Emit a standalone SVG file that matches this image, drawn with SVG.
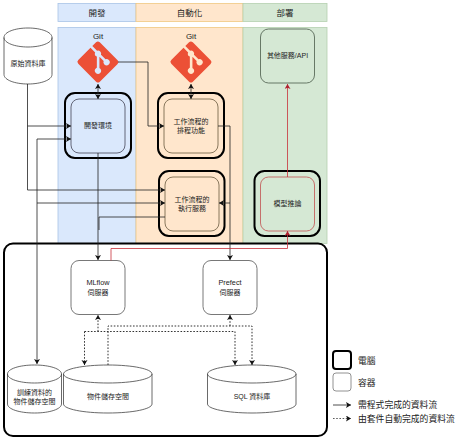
<svg xmlns="http://www.w3.org/2000/svg" width="474" height="440" viewBox="0 0 474 440">
<style>
text{font-family:"Liberation Sans","Noto Sans CJK TC",sans-serif;font-size:7px;fill:#222;text-anchor:middle}
.h{font-size:8.5px}
.g{font-size:8px}
.m{font-size:7.300px}
.k{font-size:8.800px;text-anchor:start}
.pc{stroke:#000;stroke-width:2;fill:none}
.ct{stroke:#555;stroke-width:.8;fill:none}
.cy{stroke:#444;stroke-width:.8;fill:#fff}
.l{stroke:#222;stroke-width:.8;fill:none}
.d{stroke:#333;stroke-width:1;stroke-dasharray:1.6 1.6;fill:none}
.r{stroke:#c8303a;stroke-width:.8;fill:none}
.a{marker-end:url(#ah)}
.s{marker-start:url(#ahs)}
.ra{marker-end:url(#rh)}
</style>
<defs>
<marker id="ah" markerUnits="userSpaceOnUse" markerWidth="8" markerHeight="8" refX="5" refY="3" orient="auto"><path d="M0 0L5 3L0 6L1.2 3Z" fill="#111"/></marker>
<marker id="ahs" markerUnits="userSpaceOnUse" markerWidth="8" markerHeight="8" refX="5" refY="3" orient="auto-start-reverse"><path d="M0 0L5 3L0 6L1.2 3Z" fill="#111"/></marker>
<marker id="rh" markerUnits="userSpaceOnUse" markerWidth="8" markerHeight="8" refX="5" refY="3" orient="auto"><path d="M0 0L5 3L0 6L1.2 3Z" fill="#b02030"/></marker>
<path id="git" transform="scale(.445)" fill="#ec5036" d="M90.156 41.965 50.036 1.848a5.918 5.918 0 0 0-8.372 0l-8.328 8.332 10.566 10.566a7.03 7.03 0 0 1 7.23 1.684 7.034 7.034 0 0 1 1.669 7.277l10.187 10.184a7.028 7.028 0 0 1 7.278 1.672 7.04 7.04 0 0 1 0 9.957 7.05 7.05 0 0 1-9.965 0 7.044 7.044 0 0 1-1.528-7.66l-9.5-9.497V59.36a7.04 7.04 0 0 1 1.86 11.29 7.04 7.04 0 0 1-9.957 0 7.04 7.04 0 0 1 0-9.958 7.06 7.06 0 0 1 2.304-1.539V33.926a7.049 7.049 0 0 1-3.82-9.234L29.242 14.272 1.73 41.777a5.925 5.925 0 0 0 0 8.371L41.852 90.27a5.925 5.925 0 0 0 8.37 0l39.934-39.934a5.925 5.925 0 0 0 0-8.371"/>
</defs>
<g id="lanes">
<rect x="58" y="3.500" width="78" height="18" fill="#dae8fc" stroke="#a9c4e6" stroke-width=".8"/>
<rect x="136" y="3.500" width="107" height="18" fill="#ffe6cc" stroke="#f0c880" stroke-width=".8"/>
<rect x="243" y="3.500" width="84" height="18" fill="#d5e8d4" stroke="#b5d0b0" stroke-width=".8"/>
<rect x="58" y="27.500" width="78" height="216" fill="#dae8fc" stroke="#a9c4e6" stroke-width=".8"/>
<rect x="136" y="27.500" width="107" height="216" fill="#ffe6cc" stroke="#f0c880" stroke-width=".8"/>
<rect x="243" y="27.500" width="84" height="216" fill="#d5e8d4" stroke="#b5d0b0" stroke-width=".8"/>
<text class="h" x="97" y="15.500">開發</text>
<text class="h" x="189.500" y="15.500">自動化</text>
<text class="h" x="285" y="15.500">部署</text>
</g>
<g id="computer"><rect x="4" y="243.500" width="323" height="192.500" rx="9" stroke="#000" stroke-width="2" fill="#fff"/></g>
<g id="raw-db"><path class="cy" d="M4 37.500C4 32 15 28 28 28S52 32 52 37.500V74.500C52 80 41 84 28 84S4 80 4 74.500Z"/><path class="cy" style="fill:none" d="M4 37.500C4 43 15 47 28 47S52 43 52 37.500"/><text x="28" y="66">原始資料庫</text></g>
<g id="git-dev"><text class="g" x="98" y="39">Git</text><use href="#git" transform="translate(77.500 41.500)"/></g>
<g id="git-auto"><text class="g" x="191" y="39">Git</text><use href="#git" transform="translate(170.500 41.500)"/></g>
<g id="dev-env"><rect x="65" y="93" width="66" height="65" rx="10" class="pc"/><rect x="71" y="99" width="54" height="54" rx="8" class="ct" style="stroke:#445"/><text x="98" y="128">開發環境</text></g>
<g id="scheduler"><rect x="158" y="93" width="66" height="65" rx="10" class="pc"/><rect x="164" y="99" width="54" height="54" rx="8" class="ct" style="stroke:#6a5a40"/><text x="191" y="124">工作流程的</text><text x="191" y="133">排程功能</text></g>
<g id="executor"><rect x="159" y="171" width="65.500" height="65" rx="10" class="pc"/><rect x="165" y="177" width="54" height="54" rx="8" class="ct" style="stroke:#6a5a40"/><text x="192" y="202">工作流程的</text><text x="192" y="210.500">執行服務</text></g>
<g id="other-api"><rect x="260.500" y="29" width="54" height="54" rx="8" class="ct" style="stroke:#4a5a4a"/><text x="287.500" y="58">其他服務/API</text></g>
<g id="inference"><rect x="254.500" y="171" width="65.500" height="65" rx="10" class="pc"/><rect x="260.500" y="177" width="54" height="54" rx="8" class="ct" style="stroke:#c05050"/><text x="287.500" y="206">模型推論</text></g>
<g id="mlflow"><rect x="71" y="260.500" width="54" height="54" rx="8" class="ct"/><text class="m" x="98" y="285">MLflow</text><text x="98" y="295">伺服器</text></g>
<g id="prefect"><rect x="203" y="260.500" width="54" height="54" rx="8" class="ct"/><text class="m" x="230" y="285">Prefect</text><text x="230" y="295">伺服器</text></g>
<g id="train-store"><path class="cy" d="M7.500 374C7.500 369 19 365 34.500 365S61.500 369 61.500 374V404C61.500 409 50 413 34.500 413S7.500 409 7.500 404Z"/><path class="cy" style="fill:none" d="M7.500 374C7.500 379 19 383 34.500 383S61.500 379 61.500 374"/><text x="34.500" y="395">訓練資料的</text><text x="34.500" y="404">物件儲存空間</text></g>
<g id="object-store"><path class="cy" d="M63.500 374C63.500 369 83 365 108 365S152 369 152 374V404C152 409 133 413 108 413S63.500 409 63.500 404Z"/><path class="cy" style="fill:none" d="M63.500 374C63.500 379 83 383 108 383S152 379 152 374"/><text x="108" y="399">物件儲存空間</text></g>
<g id="sql-db"><path class="cy" d="M207.500 374C207.500 369 227 365 252 365S296 369 296 374V404C296 409 277 413 252 413S207.500 409 207.500 404Z"/><path class="cy" style="fill:none" d="M207.500 374C207.500 379 227 383 252 383S296 379 296 374"/><text x="252" y="399">SQL 資料庫</text></g>
<g id="connectors">
<path class="l a" d="M27.500 84V126H71"/>
<path class="l a" d="M27.500 126V190H165"/>
<path class="l a" d="M37 139H71"/>
<path class="l a" d="M37 139V364"/>
<path class="l a" d="M37 203H165"/>
<path class="l a" d="M118 62H148V126H164"/>
<path class="l a" d="M218 126H230V203H219"/>
<path class="l a" d="M230 203V260"/>
<path class="l a" d="M98 153V260"/>
<path class="l" d="M165 217H99V230"/>
<path class="l a s" d="M98 84V99"/>
<path class="l a s" d="M191 84V99"/>
<path class="r ra" d="M111 260.500V248.500H287.500V231"/>
<path class="r ra" d="M287.500 177V84"/>
<path class="d a" d="M98 331.500V315"/>
<path class="d a" d="M84.500 331.500V365"/>
<path class="d a" d="M84.500 331.500H235V365"/>
<path class="d a" d="M230 326V315"/>
<path class="d a" d="M108 365V326H252V365"/>
</g>
<g id="legend">
<rect x="333" y="351" width="18" height="18" rx="3" class="pc"/><text class="k" x="358" y="363.500">電腦</text>
<rect x="333" y="373" width="18" height="18" rx="3" fill="#fff" stroke="#777" stroke-width=".8"/><text class="k" x="358" y="385.500">容器</text>
<path class="l a" d="M333 405H351"/><text class="k" x="358" y="408">需程式完成的資料流</text>
<path class="d a" d="M333 418.500H351" style="stroke-width:.8"/><text class="k" x="358" y="422">由套件自動完成的資料流</text>
</g>
</svg>
